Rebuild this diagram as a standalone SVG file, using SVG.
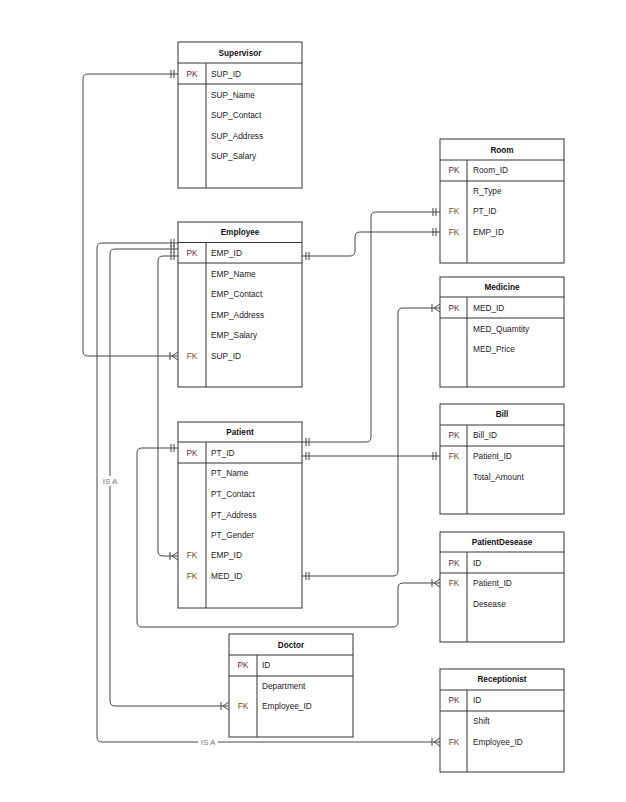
<svg xmlns="http://www.w3.org/2000/svg" width="626" height="802" viewBox="0 0 626 802">
<style>
.bg{fill:#ffffff}
.tb{fill:#ffffff;stroke:#333333;stroke-width:1}
.ln{stroke:#333333;stroke-width:1;fill:none}
.ttl{font-family:"Liberation Sans",Arial,sans-serif;font-size:8.2px;font-weight:bold;fill:#111111;text-anchor:middle;dominant-baseline:central}
.at{font-family:"Liberation Sans",Arial,sans-serif;font-size:8.3px;fill:#222222;dominant-baseline:central}
.pk{font-family:"Liberation Sans",Arial,sans-serif;font-size:8.3px;fill:#5a2a3a;text-anchor:middle;dominant-baseline:central}
.fk{font-family:"Liberation Sans",Arial,sans-serif;font-size:8.3px;fill:#6e4a1c;text-anchor:middle;dominant-baseline:central}
.cn{stroke:#444444;stroke-width:1;fill:none}
.lbl{font-family:"Liberation Sans",Arial,sans-serif;font-size:8px;fill:#777777;text-anchor:middle;dominant-baseline:central}
</style>
<defs>
<marker id="one" markerUnits="userSpaceOnUse" markerWidth="12" markerHeight="12" viewBox="-10 -6 12 12" refX="0" refY="0" orient="auto-start-reverse">
<path d="M-4,-4V4M-7,-4V4" stroke="#444444" stroke-width="1" fill="none"/>
</marker>
<marker id="many" markerUnits="userSpaceOnUse" markerWidth="12" markerHeight="12" viewBox="-10 -6 12 12" refX="0" refY="0" orient="auto-start-reverse">
<path d="M-8,-4V4M-6,0L0,-4M-6,0L0,4" stroke="#444444" stroke-width="1" fill="none"/>
</marker>
</defs>
<rect class="bg" x="0" y="0" width="626" height="802"/>

<g id="connectors">
<path class="cn" d="M178,74H88Q83,74 83,79V351Q83,356 88,356H178" marker-start="url(#one)" marker-end="url(#many)"/>
<path class="cn" d="M178,256H163Q158,256 158,261V551Q158,556 163,556H178" marker-start="url(#one)" marker-end="url(#many)"/>
<path class="cn" d="M178,249H115Q110,249 110,254V701Q110,706 115,706H229" marker-start="url(#one)" marker-end="url(#many)"/>
<path class="cn" d="M178,243H102Q97,243 97,248V737Q97,742 102,742H440" marker-start="url(#one)" marker-end="url(#many)"/>
<path class="cn" d="M302,256H350Q355,256 355,251V237Q355,232 360,232H440" marker-start="url(#one)" marker-end="url(#one)"/>
<path class="cn" d="M302,442H366Q371,442 371,437V217Q371,212 376,212H440" marker-start="url(#one)" marker-end="url(#one)"/>
<path class="cn" d="M302,456H440" marker-start="url(#one)" marker-end="url(#one)"/>
<path class="cn" d="M302,576H393Q398,576 398,571V313Q398,308 403,308H440" marker-start="url(#one)" marker-end="url(#many)"/>
<path class="cn" d="M178,448H142Q137,448 137,453V622Q137,627 142,627H393Q398,627 398,622V588Q398,583 403,583H440" marker-start="url(#one)" marker-end="url(#many)"/>
<rect x="100" y="476" width="20" height="10" fill="#ffffff"/>
<text class="lbl" x="110" y="481">IS A</text>
<rect x="198" y="737" width="20" height="10" fill="#ffffff"/>
<text class="lbl" x="208" y="742">IS A</text>
</g>

<g id="supervisor">
<rect class="tb" x="178" y="42" width="124" height="146"/>
<path class="ln" d="M178,63H302M178,84H302M206,63V188"/>
<text class="ttl" x="240" y="53">Supervisor</text>
<text class="pk" x="192" y="74">PK</text>
<text class="at" x="211" y="74">SUP_ID</text>
<text class="at" x="211" y="95">SUP_Name</text>
<text class="at" x="211" y="115">SUP_Contact</text>
<text class="at" x="211" y="136">SUP_Address</text>
<text class="at" x="211" y="156">SUP_Salary</text>
</g>

<g id="employee">
<rect class="tb" x="178" y="222" width="124" height="165"/>
<path class="ln" d="M178,242.5H302M178,263H302M206,242.5V387"/>
<text class="ttl" x="240" y="232">Employee</text>
<text class="pk" x="192" y="253">PK</text>
<text class="at" x="211" y="253">EMP_ID</text>
<text class="at" x="211" y="274">EMP_Name</text>
<text class="at" x="211" y="294">EMP_Contact</text>
<text class="at" x="211" y="315">EMP_Address</text>
<text class="at" x="211" y="335">EMP_Salary</text>
<text class="fk" x="192" y="356">FK</text>
<text class="at" x="211" y="356">SUP_ID</text>
</g>

<g id="room">
<rect class="tb" x="440" y="139" width="124" height="124"/>
<path class="ln" d="M440,160H564M440,181H564M467,160V263"/>
<text class="ttl" x="502" y="150">Room</text>
<text class="pk" x="454" y="170">PK</text>
<text class="at" x="473" y="170">Room_ID</text>
<text class="at" x="473" y="191">R_Type</text>
<text class="fk" x="454" y="211">FK</text>
<text class="at" x="473" y="211">PT_ID</text>
<text class="fk" x="454" y="232">FK</text>
<text class="at" x="473" y="232">EMP_ID</text>
</g>

<g id="medicine">
<rect class="tb" x="440" y="277" width="124" height="110"/>
<path class="ln" d="M440,297H564M440,318H564M467,297V387"/>
<text class="ttl" x="502" y="287">Medicine</text>
<text class="pk" x="454" y="308">PK</text>
<text class="at" x="473" y="308">MED_ID</text>
<text class="at" x="473" y="329">MED_Quamtity</text>
<text class="at" x="473" y="349">MED_Price</text>
</g>

<g id="patient">
<rect class="tb" x="178" y="422" width="124" height="186"/>
<path class="ln" d="M178,442H302M178,463H302M206,442V608"/>
<text class="ttl" x="240" y="432">Patient</text>
<text class="pk" x="192" y="453">PK</text>
<text class="at" x="211" y="453">PT_ID</text>
<text class="at" x="211" y="473">PT_Name</text>
<text class="at" x="211" y="494">PT_Contact</text>
<text class="at" x="211" y="515">PT_Address</text>
<text class="at" x="211" y="535">PT_Gender</text>
<text class="fk" x="192" y="555">FK</text>
<text class="at" x="211" y="555">EMP_ID</text>
<text class="fk" x="192" y="576">FK</text>
<text class="at" x="211" y="576">MED_ID</text>
</g>

<g id="bill">
<rect class="tb" x="440" y="404" width="124" height="110"/>
<path class="ln" d="M440,425H564M440,446H564M467,425V514"/>
<text class="ttl" x="502" y="414">Bill</text>
<text class="pk" x="454" y="435">PK</text>
<text class="at" x="473" y="435">Bill_ID</text>
<text class="fk" x="454" y="456">FK</text>
<text class="at" x="473" y="456">Patient_ID</text>
<text class="at" x="473" y="477">Total_Amount</text>
</g>

<g id="patientdesease">
<rect class="tb" x="440" y="532" width="124" height="110"/>
<path class="ln" d="M440,552H564M440,573H564M467,552V642"/>
<text class="ttl" x="502" y="542">PatientDesease</text>
<text class="pk" x="454" y="563">PK</text>
<text class="at" x="473" y="563">ID</text>
<text class="fk" x="454" y="583">FK</text>
<text class="at" x="473" y="583">Patient_ID</text>
<text class="at" x="473" y="604">Desease</text>
</g>

<g id="doctor">
<rect class="tb" x="229" y="634" width="124" height="103"/>
<path class="ln" d="M229,655H353M229,676H353M257,655V737"/>
<text class="ttl" x="291" y="645">Doctor</text>
<text class="pk" x="243" y="665">PK</text>
<text class="at" x="262" y="665">ID</text>
<text class="at" x="262" y="686">Department</text>
<text class="fk" x="243" y="706">FK</text>
<text class="at" x="262" y="706">Employee_ID</text>
</g>

<g id="receptionist">
<rect class="tb" x="440" y="669" width="124" height="103"/>
<path class="ln" d="M440,690H564M440,711H564M467,690V772"/>
<text class="ttl" x="502" y="679">Receptionist</text>
<text class="pk" x="454" y="700">PK</text>
<text class="at" x="473" y="700">ID</text>
<text class="at" x="473" y="721">Shift</text>
<text class="fk" x="454" y="742">FK</text>
<text class="at" x="473" y="742">Employee_ID</text>
</g>
</svg>
